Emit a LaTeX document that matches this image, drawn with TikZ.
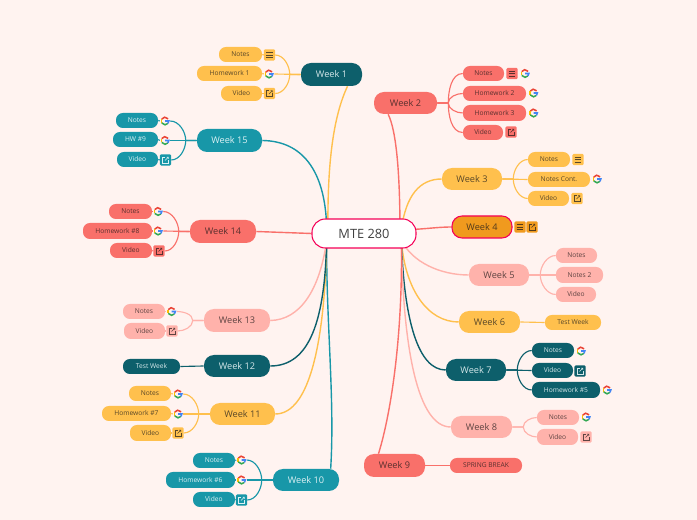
\documentclass[tikz,border=0pt]{standalone}
\usepackage{fontspec}
\setmainfont{Open Sans}
\usetikzlibrary{calc}
\pgfdeclarelayer{conn}
\pgfsetlayers{conn,main}
\definecolor{bgc}{HTML}{FFF3F0}
\definecolor{dtl}{HTML}{0D5F6B}\definecolor{dtlfg}{HTML}{D5E8EA}
\definecolor{tl}{HTML}{1897A8}\definecolor{tlfg}{HTML}{DDF1F4}
\definecolor{sal}{HTML}{F9706A}\definecolor{salfg}{HTML}{5A302E}
\definecolor{pnk}{HTML}{FFB2AB}\definecolor{pnkfg}{HTML}{5F4442}
\definecolor{yel}{HTML}{FFC04D}\definecolor{yelfg}{HTML}{5A4828}
\definecolor{org}{HTML}{F09A1E}\definecolor{orgfg}{HTML}{523A1C}
\definecolor{mag}{HTML}{F50057}
\definecolor{gbl}{HTML}{4285F4}\definecolor{grd}{HTML}{EA4335}\definecolor{gyl}{HTML}{FBBC05}\definecolor{ggr}{HTML}{34A853}
\tikzset{
  wk/.style={rectangle,rounded corners=7.5pt,inner sep=0pt,fill=#1,text=#1fg,font=\fontsize{6.9}{8}\selectfont},
  sm/.style={rectangle,rounded corners=5.2pt,inner sep=0pt,fill=#1,text=#1fg,font=\fontsize{5}{6}\selectfont},
  hub/.style={rectangle,rounded corners=10pt,inner sep=0pt,fill=white,draw=mag,line width=.8pt,text=black!75,font=\fontsize{9.6}{11}\selectfont},
  selwk/.style={wk=org,draw=mag,line width=.8pt},
  mainln/.style={line width=1.05pt,#1},
  subln/.style={line width=.85pt,#1},
  icbox/.style={rectangle,rounded corners=.8pt,inner sep=0pt,minimum width=8.3pt,minimum height=8.3pt,fill=#1},
  gbox/.style={rectangle,inner sep=0pt,minimum width=7.5pt,minimum height=7.5pt},
  glyph/.style={line width=.42pt,#1},
  garc/.style={line width=1.15pt,#1}
}
\newcommand\pn[7]{%
  \pgfmathsetmacro\pnw{(#4-#3)*0.75}\pgfmathsetmacro\pnh{(#6-#5)*0.75}%
  \pgfmathsetmacro\pnx{(#3+#4)/2}\pgfmathsetmacro\pny{(#5+#6)/2}%
  \node[#2,minimum width=\pnw pt,minimum height=\pnh pt] (#1) at (\pnx,\pny) {#7};}
% google icon
\newcommand\gi[3]{%
  \node[gbox] (#1) at (#2,#3) {};
  \draw[garc=grd] ([shift={(35:2.85pt)}]#1.center) arc[start angle=35,end angle=150,radius=2.85pt];
  \draw[garc=gyl] ([shift={(150:2.85pt)}]#1.center) arc[start angle=150,end angle=210,radius=2.85pt];
  \draw[garc=ggr] ([shift={(210:2.85pt)}]#1.center) arc[start angle=210,end angle=320,radius=2.85pt];
  \draw[garc=gbl] ([shift={(320:2.85pt)}]#1.center) arc[start angle=320,end angle=360,radius=2.85pt] -- (#1.center);}
% menu icon
\newcommand\mi[4]{%
  \node[icbox=#4] (#1) at (#2,#3) {};
  \foreach \yy in {-1.9pt,0pt,1.9pt}{\draw[glyph=#4fg,line width=.55pt] ([xshift=-2.6pt,yshift=\yy]#1.center) -- ([xshift=2.6pt,yshift=\yy]#1.center);}}
% link icon
\newcommand\li[4]{%
  \node[icbox=#4] (#1) at (#2,#3) {};
  \draw[glyph=#4fg] ([xshift=-.3pt,yshift=2.2pt]#1.center) -- ([xshift=-2.2pt,yshift=2.2pt]#1.center) -- ([xshift=-2.2pt,yshift=-2.2pt]#1.center) -- ([xshift=2.2pt,yshift=-2.2pt]#1.center) -- ([xshift=2.2pt,yshift=.3pt]#1.center);
  \draw[glyph=#4fg] ([xshift=-.4pt,yshift=-.4pt]#1.center) -- ([xshift=2.2pt,yshift=2.2pt]#1.center) ([xshift=.9pt,yshift=2.2pt]#1.center) -- ([xshift=2.2pt,yshift=2.2pt]#1.center) -- ([xshift=2.2pt,yshift=.9pt]#1.center);}
% connectors: parent, child, colour
\newcommand\lu[3]{\draw[subln=#3] (#1.west) -- ++(-11,0) to[out=90,in=0,looseness=.9] (#2.east);}
\newcommand\ld[3]{\draw[subln=#3] (#1.west) -- ++(-11,0) to[out=-90,in=0,looseness=.9] (#2.east);}
\newcommand\ru[3]{\draw[subln=#3] (#1.east) -- ++(11,0) to[out=90,in=180,looseness=.9] (#2.west);}
\newcommand\rd[3]{\draw[subln=#3] (#1.east) -- ++(11,0) to[out=-90,in=180,looseness=.9] (#2.west);}
\newcommand\st[3]{\draw[subln=#3] (#1) -- (#2);}
\begin{document}
\begin{tikzpicture}[x=.75pt,y=-.75pt]
\useasboundingbox (0,0) rectangle (697,520);
\begin{pgfonlayer}{conn}
\fill[bgc] (0,0) rectangle (697,520);
\end{pgfonlayer}
\pn{hubn}{hub}{312}{416}{219}{248}{MTE 280}
% Week 1
\pn{w1}{wk=dtl}{301}{362}{63}{86}{Week 1}
\pn{w1a}{sm=yel}{219}{262}{47}{62}{Notes}\mi{w1ai}{269.5}{55}{yel}
\pn{w1b}{sm=yel}{197}{262}{66}{81}{Homework 1}\gi{w1bi}{269}{74}
\pn{w1c}{sm=yel}{221}{262}{86}{101}{Video}\li{w1ci}{269.5}{93.5}{yel}
% Week 2
\pn{w2}{wk=sal}{374}{437}{92}{114}{Week 2}
\pn{w2a}{sm=sal}{463}{504}{66}{81}{Notes}\mi{w2ai}{512}{73.5}{sal}\gi{w2aj}{525}{73.5}
\pn{w2b}{sm=sal}{463}{526}{86}{101}{Homework 2}\gi{w2bi}{533.5}{93}
\pn{w2c}{sm=sal}{463}{526}{105}{121}{Homework 3}\gi{w2ci}{533.5}{113}
\pn{w2d}{sm=sal}{463}{503}{125}{140}{Video}\li{w2di}{511}{132}{sal}
% Week 3
\pn{w3}{wk=yel}{442}{502}{168}{190}{Week 3}
\pn{w3a}{sm=yel}{528}{570}{152}{167}{Notes}\mi{w3ai}{578}{159.5}{yel}
\pn{w3b}{sm=yel}{528}{590}{172}{187}{Notes Cont.}\gi{w3bi}{597}{179}
\pn{w3c}{sm=yel}{528}{569}{191}{206}{Video}\li{w3ci}{577}{198.5}{yel}
% Week 4
\pn{w4}{selwk}{452}{512}{216}{238}{Week 4}
\mi{w4i}{520}{227}{org}\li{w4j}{532}{227}{org}
% Week 5
\pn{w5}{wk=pnk}{469}{529}{264}{286}{Week 5}
\pn{w5a}{sm=pnk}{556}{597}{248}{263}{Notes}
\pn{w5b}{sm=pnk}{556}{603}{267}{283}{Notes 2}
\pn{w5c}{sm=pnk}{556}{596}{287}{302}{Video}
% Week 6
\pn{w6}{wk=yel}{459}{520}{311}{333}{Week 6}
\pn{w6a}{sm=yel}{545}{601}{315}{330}{Test Week}
% Week 7
\pn{w7}{wk=dtl}{446}{506}{359}{381}{Week 7}
\pn{w7a}{sm=dtl}{532}{574}{343}{358}{Notes}\gi{w7ai}{581}{351}
\pn{w7b}{sm=dtl}{532}{573}{363}{378}{Video}\li{w7bi}{580}{371}{dtl}
\pn{w7c}{sm=dtl}{532}{600}{382}{398}{Homework \#5}\gi{w7ci}{607}{390}
% Week 8
\pn{w8}{wk=pnk}{451}{512}{416}{438}{Week 8}
\pn{w8a}{sm=pnk}{537}{579}{410}{425}{Notes}\gi{w8ai}{586}{417}
\pn{w8b}{sm=pnk}{537}{578}{429}{445}{Video}\li{w8bi}{586}{437}{pnk}
% Week 9
\pn{w9}{wk=sal}{364}{425}{454}{477}{Week 9}
\pn{w9a}{sm=sal}{450}{522}{458}{473}{SPRING BREAK}
% Week 10
\pn{w10}{wk=tl}{273}{339}{469}{491}{Week 10}
\pn{w10a}{sm=tl}{193}{235}{453}{468}{Notes}\gi{w10ai}{241.5}{460}
\pn{w10b}{sm=tl}{166}{235}{472}{488}{Homework \#6}\gi{w10bi}{241.5}{480}
\pn{w10c}{sm=tl}{193}{235}{492}{507}{Video}\li{w10ci}{241.5}{500}{tl}
% Week 11
\pn{w11}{wk=yel}{210}{275}{403}{425}{Week 11}
\pn{w11a}{sm=yel}{129}{171}{386}{401}{Notes}\gi{w11ai}{178}{394}
\pn{w11b}{sm=yel}{102}{171}{406}{421}{Homework \#7}\gi{w11bi}{178}{414}
\pn{w11c}{sm=yel}{130}{171}{425}{441}{Video}\li{w11ci}{178}{433}{yel}
% Week 12
\pn{w12}{wk=dtl}{204}{270}{355}{377}{Week 12}
\pn{w12a}{sm=dtl}{123}{180}{359}{374}{Test Week}
% Week 13
\pn{w13}{wk=pnk}{204}{270}{309}{332}{Week 13}
\pn{w13a}{sm=pnk}{123}{165}{304}{319}{Notes}\gi{w13ai}{171.5}{311.5}
\pn{w13b}{sm=pnk}{124}{165}{323}{339}{Video}\li{w13bi}{172}{331}{pnk}
% Week 14
\pn{w14}{wk=sal}{190}{256}{220}{243}{Week 14}
\pn{w14a}{sm=sal}{109}{152}{204}{219}{Notes}\gi{w14ai}{158}{211.5}
\pn{w14b}{sm=sal}{83}{152}{223}{239}{Homework \#8}\gi{w14bi}{158}{231}
\pn{w14c}{sm=sal}{110}{152}{243}{258}{Video}\li{w14ci}{159}{251}{sal}
% Week 15
\pn{w15}{wk=tl}{197}{262}{129}{152}{Week 15}
\pn{w15a}{sm=tl}{116}{158}{113}{128}{Notes}\gi{w15ai}{165}{121}
\pn{w15b}{sm=tl}{113}{158}{132}{147}{HW \#9}\gi{w15bi}{165}{140.5}
\pn{w15c}{sm=tl}{117}{158}{152}{167}{Video}\li{w15ci}{165.5}{160}{tl}
\begin{pgfonlayer}{conn}
% hub to weeks
\draw[mainln=yel] ([xshift=-27pt]hubn.center) .. controls (327,160) and (334,115) .. ([xshift=12pt]w1.south);
\draw[mainln=sal] ([xshift=27pt]hubn.center) .. controls (400,170) and (396,130) .. ([xshift=-13pt]w2.south);
\draw[mainln=yel] ([xshift=28pt,yshift=3pt]hubn.center) .. controls (406,195) and (420,179) .. (w3.west);
\draw[mainln=sal] ([xshift=28pt,yshift=3pt]hubn.center) .. controls (420,230) and (435,227) .. (w4.west);
\draw[mainln=pnk] ([xshift=28pt,yshift=-5pt]hubn.center) .. controls (412,262) and (440,275) .. (w5.west);
\draw[mainln=yel] ([xshift=28pt,yshift=-5pt]hubn.center) .. controls (405,290) and (428,322) .. (w6.west);
\draw[mainln=dtl] ([xshift=28pt,yshift=-5pt]hubn.center) .. controls (404,320) and (418,370) .. (w7.west);
\draw[mainln=pnk] ([xshift=28pt,yshift=-5pt]hubn.center) .. controls (403,350) and (418,427) .. (w8.west);
\draw[mainln=sal] ([xshift=28pt,yshift=-5pt]hubn.center) .. controls (403,330) and (392,410) .. ([xshift=-12pt]w9.north);
\draw[mainln=tl] ([xshift=-28pt,yshift=-5pt]hubn.center) .. controls (326,320) and (335,400) .. ([xshift=18.5pt]w10.north);
\draw[mainln=yel] ([xshift=-28pt,yshift=-5pt]hubn.center) .. controls (325,340) and (310,414) .. (w11.east);
\draw[mainln=dtl] ([xshift=-28pt,yshift=-5pt]hubn.center) .. controls (325,320) and (310,366) .. (w12.east);
\draw[mainln=pnk] ([xshift=-28pt,yshift=-5pt]hubn.center) .. controls (320,290) and (300,320) .. (w13.east);
\draw[mainln=sal] (hubn.west) -- (w14.east);
\draw[mainln=tl] ([xshift=-28pt,yshift=5pt]hubn.center) .. controls (325,170) and (302,141) .. (w15.east);
% Week 1
\lu{w1}{w1ai}{yel}\st{w1.west}{w1bi.east}{yel}\ld{w1}{w1ci}{yel}
\st{w1a.east}{w1ai.west}{yel}\st{w1b.east}{w1bi.west}{yel}\st{w1c.east}{w1ci.west}{yel}
% Week 2
\ru{w2}{w2a}{sal}\ru{w2}{w2b}{sal}\rd{w2}{w2c}{sal}\rd{w2}{w2d}{sal}
% Week 3
\ru{w3}{w3a}{yel}\st{w3.east}{w3b.west}{yel}\rd{w3}{w3c}{yel}
% Week 5
\ru{w5}{w5a}{pnk}\st{w5.east}{w5b.west}{pnk}\rd{w5}{w5c}{pnk}
% Week 6
\st{w6.east}{w6a.west}{yel}
% Week 7
\ru{w7}{w7a}{dtl}\st{w7.east}{w7b.west}{dtl}\rd{w7}{w7c}{dtl}
% Week 8
\ru{w8}{w8a}{pnk}\rd{w8}{w8b}{pnk}
% Week 9
\st{w9.east}{w9a.west}{sal}
% Week 10
\lu{w10}{w10ai}{tl}\st{w10.west}{w10bi.east}{tl}\ld{w10}{w10ci}{tl}
\st{w10a.east}{w10ai.west}{tl}\st{w10b.east}{w10bi.west}{tl}\st{w10c.east}{w10ci.west}{tl}
% Week 11
\lu{w11}{w11ai}{yel}\st{w11.west}{w11bi.east}{yel}\ld{w11}{w11ci}{yel}
\st{w11a.east}{w11ai.west}{yel}\st{w11b.east}{w11bi.west}{yel}\st{w11c.east}{w11ci.west}{yel}
% Week 12
\st{w12.west}{w12a.east}{dtl}
% Week 13
\lu{w13}{w13ai}{pnk}\ld{w13}{w13bi}{pnk}
\st{w13a.east}{w13ai.west}{pnk}\st{w13b.east}{w13bi.west}{pnk}
% Week 14
\lu{w14}{w14ai}{sal}\st{w14.west}{w14bi.east}{sal}\ld{w14}{w14ci}{sal}
\st{w14a.east}{w14ai.west}{sal}\st{w14b.east}{w14bi.west}{sal}\st{w14c.east}{w14ci.west}{sal}
% Week 15
\lu{w15}{w15ai}{tl}\st{w15.west}{w15bi.east}{tl}\ld{w15}{w15ci}{tl}
\st{w15a.east}{w15ai.west}{tl}\st{w15b.east}{w15bi.west}{tl}\st{w15c.east}{w15ci.west}{tl}
\end{pgfonlayer}
\end{tikzpicture}
\end{document}
